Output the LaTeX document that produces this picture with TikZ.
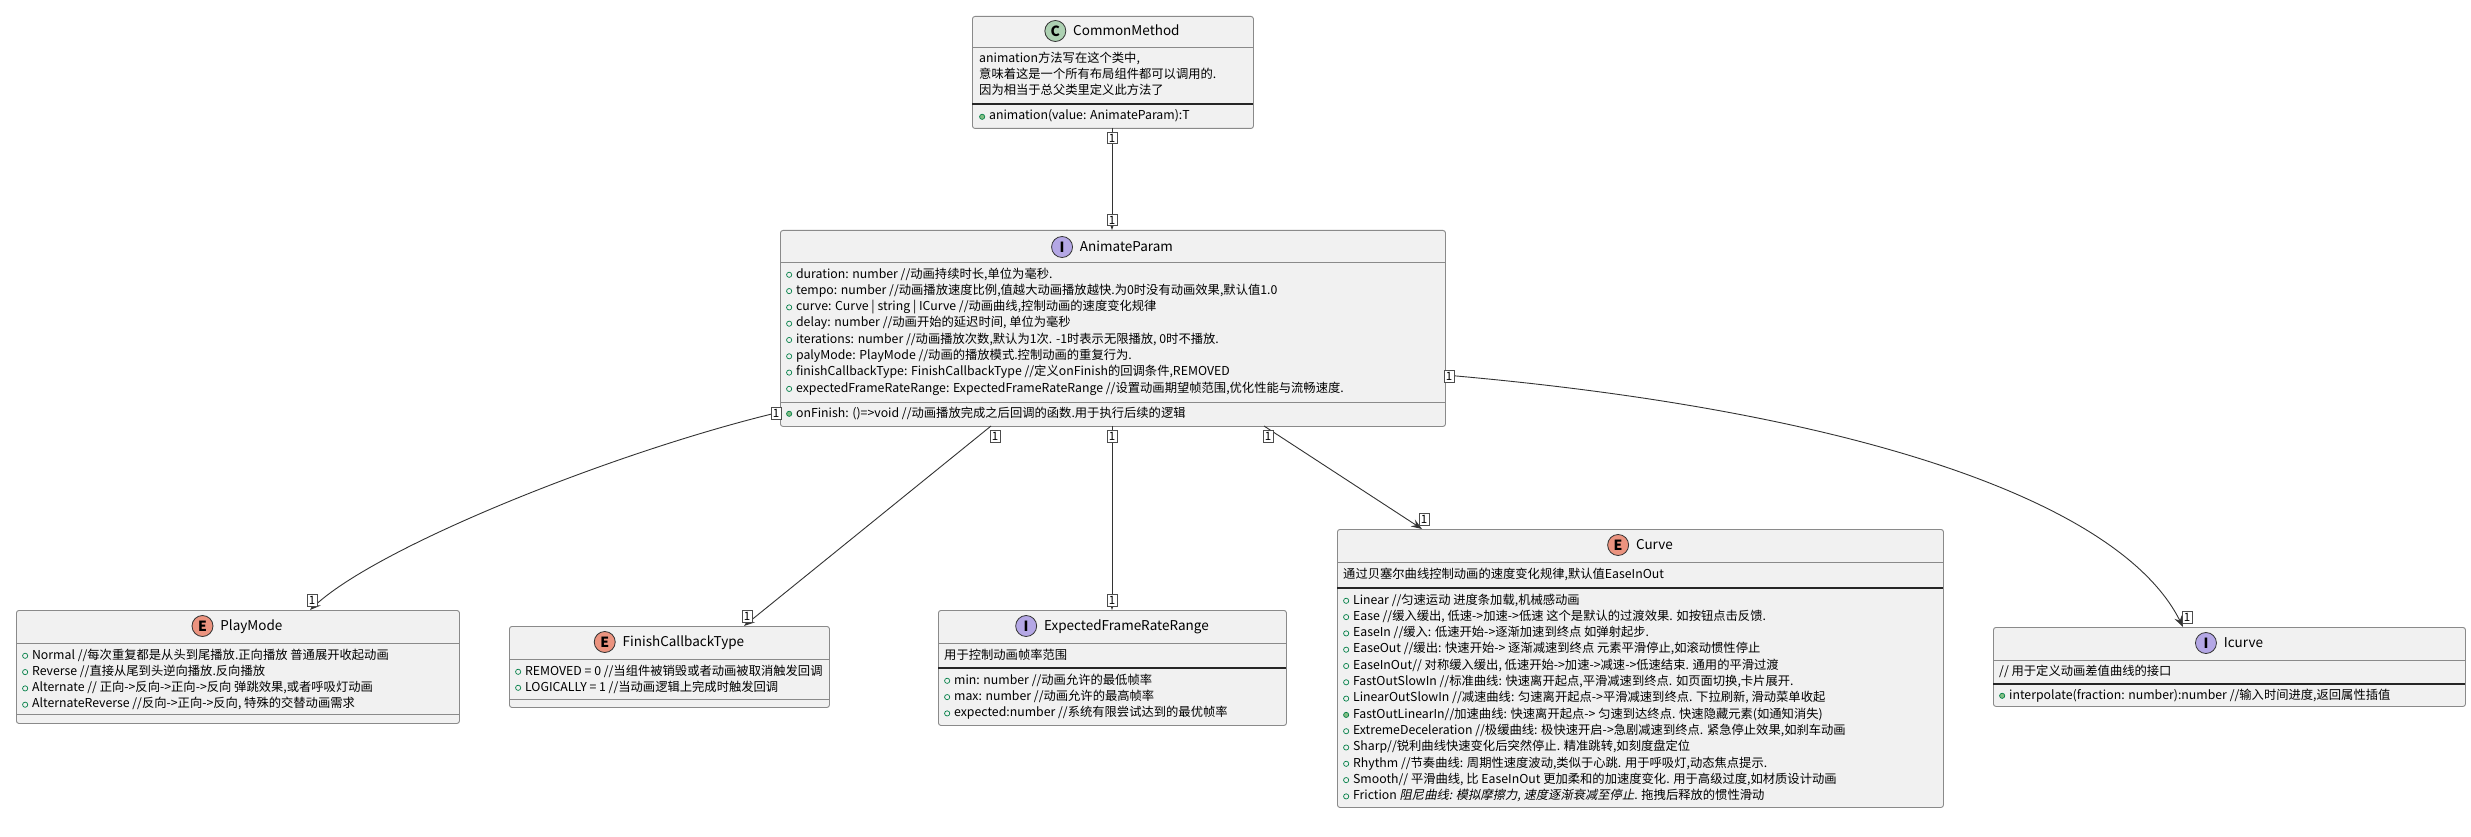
\documentclass[tikz,border=0pt]{standalone}
\usepackage{fontspec}
\setmainfont{Noto Sans CJK SC}
\newfontfamily\slantf[FakeSlant=0.2]{Noto Sans CJK SC}
\usetikzlibrary{arrows.meta}
\definecolor{clsbg}{HTML}{F1F1F1}
\definecolor{clsbd}{HTML}{8A8A8A}
\definecolor{mk}{HTML}{038048}
\definecolor{mkf}{HTML}{84BE84}
\definecolor{bC}{HTML}{ADD1B2}
\definecolor{bE}{HTML}{EB937F}
\definecolor{bI}{HTML}{B4A7E5}
\newcommand\fo{\tikz[baseline=-3.2pt]\draw[draw=mk,line width=0.7pt] (0,0) circle (2.6pt);\hspace{4pt}}
\newcommand\me{\tikz[baseline=-3.2pt]\draw[draw=mk,fill=mkf,line width=0.7pt] (0,0) circle (2.6pt);\hspace{4pt}}
\newcommand\badge[2]{\tikz[baseline=-4.6pt]{\draw[fill=#1,draw=black!80,line width=0.8pt] (0,0) circle (10.5pt); \path (0,0) node[font=\bfseries\fontsize{14}{14}\selectfont] (bd#2) {#2};}\hspace{7pt}}
\newcommand\clsbox[6]{%
  \node[cls, anchor=north west, minimum width={(#4-#2)*1pt}, minimum height={(#5-#3)*1pt}] (#1) at (#2,#3) {};
  \draw[sepl] (#2,#6) -- (#4,#6);}
\tikzset{
  cls/.style={draw=clsbd, fill=clsbg, rounded corners=2.5pt, line width=0.9pt, inner sep=0pt},
  sepl/.style={draw=clsbd, line width=0.9pt},
  sepd/.style={draw=black!85, line width=1.1pt},
  txt/.style={anchor=west, inner sep=0pt, text height=9pt, text depth=3pt, font=\fontsize{12.3}{15}\selectfont},
  ttl/.style={inner sep=0pt, font=\fontsize{13.5}{15}\selectfont},
  one/.style={draw=black!70, fill=white, inner sep=1.6pt, font=\fontsize{11.5}{12}\selectfont},
  conn/.style={draw=black!80, line width=0.9pt, -{Stealth[length=11pt,width=8pt,inset=4pt]}}
}
\begin{document}
\begin{tikzpicture}[x=1pt,y=-1pt]
\useasboundingbox (0,0) rectangle (2471,837);
\fill[white] (0,0) rectangle (2471,837);

% CommonMethod
\clsbox{cm}{972}{16}{1253}{128}{47}
\node[ttl] (cmt) at (1112,31) {\badge{bC}{C}CommonMethod};
\node[txt] (cm1) at (979,60) {animation方法写在这个类中,};
\node[txt] (cm2) at (979,76) {意味着这是一个所有布局组件都可以调用的.};
\node[txt] (cm3) at (979,92) {因为相当于总父类里定义此方法了};
\draw[sepd] (972,104) -- (1253,104);
\node[txt] (cm4) at (979,117) {\me animation(value: AnimateParam):T};

% AnimateParam
\clsbox{ap}{780}{230}{1445}{426}{262}
\node[ttl] (apt) at (1112,247) {\badge{bI}{I}\itshape AnimateParam};
\foreach \t [count=\i] in {
 {\fo duration: number //动画持续时长,单位为毫秒.},
 {\fo tempo: number //动画播放速度比例,值越大动画播放越快.为0时没有动画效果,默认值1.0},
 {\fo curve: Curve | string | ICurve //动画曲线,控制动画的速度变化规律},
 {\fo delay: number //动画开始的延迟时间, 单位为毫秒},
 {\fo iterations: number //动画播放次数,默认为1次. -1时表示无限播放, 0时不播放.},
 {\fo palyMode: PlayMode //动画的播放模式.控制动画的重复行为.},
 {\fo finishCallbackType: FinishCallbackType //定义onFinish的回调条件,REMOVED},
 {\fo expectedFrameRateRange: ExpectedFrameRateRange //设置动画期望帧范围,优化性能与流畅速度.}}
 \node[txt] (ap\i) at (786,{275+(\i-1)*16.3}) {\t};
\draw[sepl] (780,402) -- (1445,402);
\node[txt] (ap9) at (786,414) {\me onFinish: ()=>void //动画播放完成之后回调的函数.用于执行后续的逻辑};

% PlayMode
\clsbox{pm}{16}{610}{459}{723}{643}
\node[ttl] (pmt) at (237,626) {\badge{bE}{E}PlayMode};
\foreach \t [count=\i] in {
 {\fo Normal //每次重复都是从头到尾播放.正向播放 普通展开收起动画},
 {\fo Reverse //直接从尾到头逆向播放.反向播放},
 {\fo Alternate // 正向->反向->正向->反向 弹跳效果,或者呼吸灯动画},
 {\fo AlternateReverse //反向->正向->反向, 特殊的交替动画需求}}
 \node[txt] (pm\i) at (22,{656+(\i-1)*16.3}) {\t};
\draw[sepl] (16,714) -- (459,714);

% FinishCallbackType
\clsbox{fc}{509}{626}{829}{707}{659}
\node[ttl] (fct) at (669,642) {\badge{bE}{E}FinishCallbackType};
\node[txt] (fc1) at (515,672) {\fo REMOVED = 0 //当组件被销毁或者动画被取消触发回调};
\node[txt] (fc2) at (515,688) {\fo LOGICALLY = 1 //当动画逻辑上完成时触发回调};
\draw[sepl] (509,699) -- (829,699);

% ExpectedFrameRateRange
\clsbox{er}{938}{610}{1286}{725}{643}
\node[ttl] (ert) at (1112,626) {\badge{bI}{I}\itshape ExpectedFrameRateRange};
\node[txt] (er0) at (944,656) {用于控制动画帧率范围};
\draw[sepd] (938,668) -- (1286,668);
\foreach \t [count=\i] in {
 {\fo min: number //动画允许的最低帧率},
 {\fo max: number //动画允许的最高帧率},
 {\fo expected:number //系统有限尝试达到的最优帧率}}
 \node[txt] (er\i) at (944,{681+(\i-1)*16.3}) {\t};

% Curve
\clsbox{cv}{1337}{529}{1943}{807}{562}
\node[ttl] (cvt) at (1640,545) {\badge{bE}{E}Curve};
\node[txt] (cv0) at (1343,575) {通过贝塞尔曲线控制动画的速度变化规律,默认值EaseInOut};
\draw[sepd] (1337,588) -- (1943,588);
\foreach \t [count=\i] in {
 {\fo Linear //匀速运动 进度条加载,机械感动画},
 {\fo Ease //缓入缓出, 低速->加速->低速 这个是默认的过渡效果. 如按钮点击反馈.},
 {\fo EaseIn //缓入: 低速开始->逐渐加速到终点 如弹射起步.},
 {\fo EaseOut //缓出: 快速开始-> 逐渐减速到终点 元素平滑停止,如滚动惯性停止},
 {\fo EaseInOut// 对称缓入缓出, 低速开始->加速->减速->低速结束. 通用的平滑过渡},
 {\fo FastOutSlowIn //标准曲线: 快速离开起点,平滑减速到终点. 如页面切换,卡片展开.},
 {\fo LinearOutSlowIn //减速曲线: 匀速离开起点->平滑减速到终点. 下拉刷新, 滑动菜单收起},
 {\me FastOutLinearIn//加速曲线: 快速离开起点-> 匀速到达终点. 快速隐藏元素(如通知消失)},
 {\fo ExtremeDeceleration //极缓曲线: 极快速开启->急剧减速到终点. 紧急停止效果,如刹车动画},
 {\fo Sharp//锐利曲线快速变化后突然停止. 精准跳转,如刻度盘定位},
 {\fo Rhythm //节奏曲线: 周期性速度波动,类似于心跳. 用于呼吸灯,动态焦点提示.},
 {\fo Smooth// 平滑曲线, 比 EaseInOut 更加柔和的加速度变化. 用于高级过度,如材质设计动画},
 {\fo Friction {\slantf 阻尼曲线: 模拟摩擦力, 速度逐渐衰减至停止}. 拖拽后释放的惯性滑动}}
 \node[txt] (cv\i) at (1343,{601+(\i-1)*16.3}) {\t};

% Icurve
\clsbox{ic}{1993}{627}{2465}{706}{660}
\node[ttl] (ict) at (2229,643) {\badge{bI}{I}\itshape Icurve};
\node[txt] (ic0) at (1999,672) {// 用于定义动画差值曲线的接口};
\draw[sepd] (1993,684) -- (2465,684);
\node[txt] (ic1) at (1999,696) {\me interpolate(fraction: number):number //输入时间进度,返回属性插值};

% connector end points
\coordinate (s0) at (1112,128); \coordinate (e0) at (1112,230);
\coordinate (s1) at (780,412);  \coordinate (e1) at (310,610);
\coordinate (s2) at (991,426);  \coordinate (e2) at (744,626);
\coordinate (s3) at (1112,426); \coordinate (e3) at (1112,610);
\coordinate (s4) at (1264,426); \coordinate (e4) at (1422,529);
\coordinate (s5) at (1445,375); \coordinate (e5) at (2183,627);

\draw[conn] (s0) -- (e0);
\draw[conn] (s1) .. controls (620,450) and (380,545) .. (e1);
\draw[conn] (s2) -- (e2);
\draw[conn] (s3) -- (e3);
\draw[conn] (s4) -- (e4);
\draw[conn] (s5) .. controls (1850,410) and (2120,500) .. (e5);

\node[one] (l0a) at (1112,138) {1};
\node[one] (l0b) at (1112,220) {1};
\node[one] (l1a) at (776,413) {1};
\node[one] (l1b) at (312,600) {1};
\node[one] (l2a) at (995,436) {1};
\node[one] (l2b) at (747,616) {1};
\node[one] (l3a) at (1112,436) {1};
\node[one] (l3b) at (1112,600) {1};
\node[one] (l4a) at (1268,436) {1};
\node[one] (l4b) at (1424,519) {1};
\node[one] (l5a) at (1449,376) {1};
\node[one] (l5b) at (2187,617) {1};
\end{tikzpicture}
\end{document}
